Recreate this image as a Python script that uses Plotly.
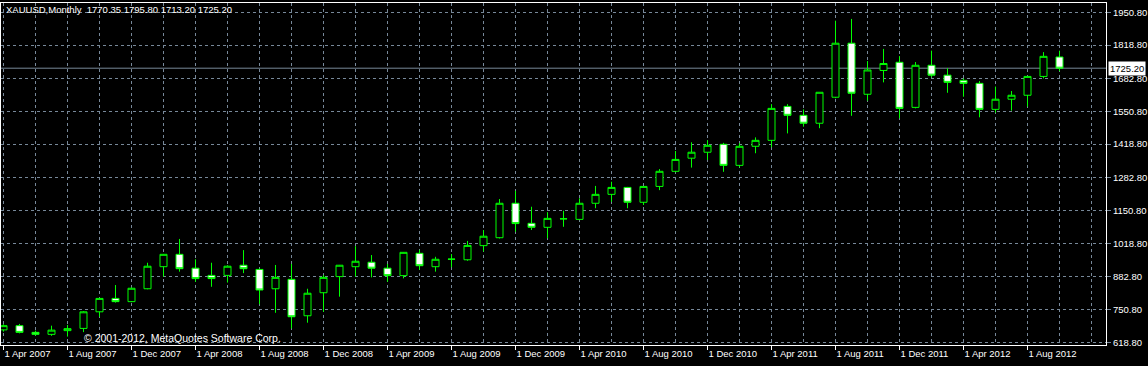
import pandas as pd
import plotly.graph_objects as go

# Monthly XAUUSD candles, Apr 2007 .. Oct 2012
opens = [669, 686, 659, 651, 666, 675, 742, 796, 783, 835, 924, 974,
         918, 889, 889, 930, 913, 835, 873, 726, 819, 884, 924, 942,
         918, 888, 978, 924, 954, 952, 1009, 1041, 1180, 1099, 1083, 1117,
         1115, 1180, 1216, 1244, 1184, 1248, 1309, 1362, 1386, 1418, 1333, 1410,
         1434, 1571, 1535, 1503, 1608, 1826, 1620, 1716, 1749, 1567, 1737, 1697,
         1676, 1664, 1559, 1600, 1616, 1692, 1770.35]
highs = [692, 693, 666, 686, 689, 745, 798, 850, 840, 940, 975, 1036,
         954, 940, 930, 991, 916, 931, 935, 835, 890, 931, 1007, 971,
         935, 983, 992, 964, 975, 1028, 1072, 1197, 1230, 1166, 1144, 1150,
         1200, 1250, 1267, 1246, 1248, 1318, 1391, 1426, 1435, 1424, 1422, 1446,
         1580, 1580, 1559, 1628, 1917, 1924, 1754, 1803, 1774, 1750, 1796, 1725,
         1684, 1673, 1651, 1633, 1692, 1790, 1795.80]
lows = [662, 655, 646, 645, 642, 660, 722, 779, 781, 833, 884, 904,
        863, 843, 860, 898, 773, 738, 675, 698, 742, 803, 884, 881,
        863, 877, 911, 904, 922, 948, 985, 1038, 1065, 1072, 1039, 1085,
        1112, 1160, 1186, 1160, 1173, 1233, 1305, 1324, 1355, 1307, 1325, 1382,
        1406, 1462, 1489, 1483, 1604, 1533, 1594, 1668, 1523, 1563, 1688, 1626,
        1610, 1527, 1546, 1554, 1570, 1684, 1713.20]
closes = [686, 659, 651, 668, 674, 742, 796, 783, 837, 926, 974, 916,
          876, 876, 926, 916, 830, 881, 722, 817, 881, 930, 946, 918,
          888, 982, 928, 954, 954.5, 1010, 1047, 1180, 1098, 1083, 1119, 1117.5,
          1180, 1216, 1244, 1184, 1248, 1309, 1357, 1386, 1414, 1333, 1410, 1434,
          1563, 1535, 1503, 1628, 1826, 1624, 1718, 1744, 1563, 1737, 1697, 1668,
          1664, 1559, 1600, 1616, 1692, 1773, 1725.20]

months = pd.date_range("2007-04-01", periods=len(opens), freq="MS")
tick_labels = ["1 Apr 2007", "1 Aug 2007", "1 Dec 2007", "1 Apr 2008", "1 Aug 2008",
               "1 Dec 2008", "1 Apr 2009", "1 Aug 2009", "1 Dec 2009", "1 Apr 2010",
               "1 Aug 2010", "1 Dec 2010", "1 Apr 2011", "1 Aug 2011", "1 Dec 2011",
               "1 Apr 2012", "1 Aug 2012"]
price_ticks = [618.80, 750.80, 882.80, 1018.80, 1150.80, 1282.80,
               1418.80, 1550.80, 1682.80, 1818.80, 1950.80]
symbol = "XAUUSD,Monthly"

x_idx = list(range(len(months)))
tick_pos = [i for i, m in enumerate(months) if m.month in (4, 8, 12)]

GRID = "#778899"
LIME = "#00ff00"
FONT = "Liberation Sans"

fig = go.Figure()
fig.add_trace(go.Candlestick(
    x=x_idx, open=opens, high=highs, low=lows, close=closes,
    increasing=dict(line=dict(color=LIME, width=1), fillcolor="black"),
    decreasing=dict(line=dict(color=LIME, width=1), fillcolor="white"),
    whiskerwidth=0, hoverinfo="skip", showlegend=False,
))

last_close = closes[-1]
fig.add_shape(type="line", xref="paper", x0=0, x1=1, yref="y",
              y0=last_close, y1=last_close,
              line=dict(color=GRID, width=1), layer="below")

fig.add_annotation(xref="paper", x=1, xanchor="left", xshift=2,
                   yref="y", y=last_close, yanchor="middle",
                   text=f"{last_close:.2f}", showarrow=False,
                   font=dict(family=FONT, size=9.5, color="black"),
                   bgcolor="white", borderpad=1)

header = f"{symbol}\u00a0\u00a0{opens[-1]:.2f} {highs[-1]:.2f} {lows[-1]:.2f} {last_close:.2f}"
fig.add_annotation(xref="paper", x=0.0027, xanchor="left",
                   yref="paper", y=0.98, yanchor="middle",
                   text=header, showarrow=False,
                   font=dict(family=FONT, size=9.5, color="white"))

fig.add_annotation(xref="paper", x=0.0733, xanchor="left",
                   yref="paper", y=0.0205, yanchor="middle",
                   text="© 2001-2012, MetaQuotes Software Corp.", showarrow=False,
                   font=dict(family=FONT, size=10.5, color="white"))

fig.update_layout(
    width=1148, height=366,
    margin=dict(l=1, r=42, t=3, b=21),
    paper_bgcolor="black", plot_bgcolor="black",
    boxgap=0.375,
    font=dict(family=FONT, size=9.5, color="white"),
    xaxis=dict(
        range=[-0.15625, 68.90625],
        rangeslider=dict(visible=False),
        tickmode="array", tickvals=tick_pos, ticktext=tick_labels,
        ticks="outside", ticklen=4, tickcolor="white",
        ticklabelposition="outside right",
        tickfont=dict(family=FONT, size=9.5, color="white"),
        showgrid=True, gridcolor=GRID, griddash="3px,3px", gridwidth=1,
        minor=dict(tick0=0, dtick=2, showgrid=True, gridcolor=GRID,
                   griddash="3px,3px", gridwidth=1, ticks=""),
        showline=True, linecolor="white", linewidth=1, mirror=True,
        zeroline=False, fixedrange=True,
    ),
    yaxis=dict(
        range=[608.0, 1988.3], side="right",
        tickmode="array", tickvals=price_ticks,
        ticktext=[f"{v:.2f}" for v in price_ticks],
        ticks="outside", ticklen=4, tickcolor=GRID,
        tickfont=dict(family=FONT, size=9.5, color="white"),
        showgrid=True, gridcolor=GRID, griddash="3px,3px", gridwidth=1,
        showline=True, linecolor="white", linewidth=1, mirror=True,
        zeroline=False, fixedrange=True,
    ),
)

fig.write_html("out.html")
